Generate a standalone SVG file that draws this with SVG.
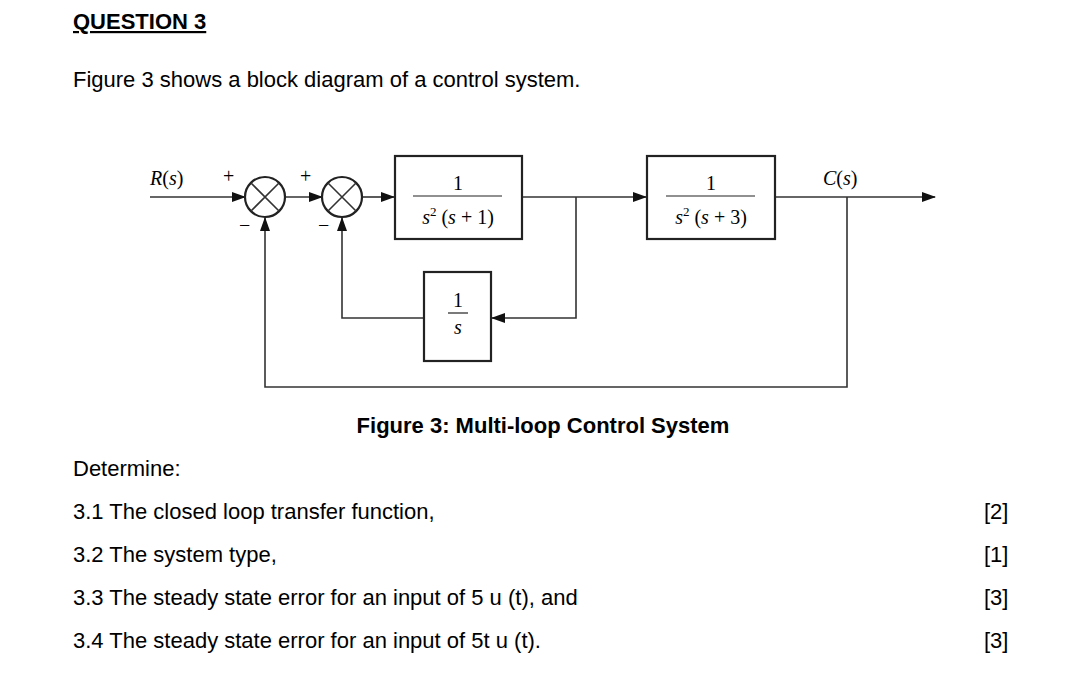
<svg xmlns="http://www.w3.org/2000/svg" width="1080" height="682" viewBox="0 0 1080 682">
<style>
.t{font-family:"Liberation Sans",Arial,sans-serif;font-size:22px;fill:#000}
.m{font-family:"Liberation Serif","Times New Roman",serif;font-size:20px;fill:#000}
.mi{font-family:"Liberation Serif","Times New Roman",serif;font-size:20px;font-style:italic;fill:#000}
.b{fill:#fff;stroke:#222;stroke-width:2.2}
.c{fill:none;stroke:#333;stroke-width:1.6}
</style>
<defs><marker id="a" markerWidth="14" markerHeight="10" refX="13" refY="5" orient="auto" markerUnits="userSpaceOnUse"><path d="M0,0L14,5L0,10z" fill="#111"/></marker></defs>
<rect width="1080" height="682" fill="#fff"/>
<text class="t" x="73" y="29" font-weight="bold" text-decoration="underline">QUESTION 3</text>
<text class="t" x="73" y="87">Figure 3 shows a block diagram of a control system.</text>
<g id="connectors" class="c">
<path d="M150,197H245" marker-end="url(#a)"/>
<path d="M285,197H322" marker-end="url(#a)"/>
<path d="M362,197H394" marker-end="url(#a)"/>
<path d="M522,197H646" marker-end="url(#a)"/>
<path d="M775,197H935" marker-end="url(#a)"/>
<path d="M576,197V318H492" marker-end="url(#a)"/>
<path d="M424,318H342V218" marker-end="url(#a)"/>
<path d="M847,197V387H265V218" marker-end="url(#a)"/>
</g>
<g id="sum1"><circle class="b" cx="265" cy="197" r="20" stroke-width="1.8"/><path class="c" d="M251,183L279,211M279,183L251,211"/></g>
<g id="sum2"><circle class="b" cx="342" cy="197" r="20" stroke-width="1.8"/><path class="c" d="M328,183L356,211M356,183L328,211"/></g>
<g id="g1"><rect class="b" x="395" y="156" width="127" height="83"/><text class="m" x="458" y="190" text-anchor="middle">1</text><line x1="413" y1="196" x2="502" y2="196" stroke="#222" stroke-width="1.2"/><text class="m" x="458" y="224" text-anchor="middle"><tspan font-style="italic">s</tspan><tspan font-size="13" dy="-8">2</tspan><tspan dy="8"> (</tspan><tspan font-style="italic">s</tspan> + 1)</text></g>
<g id="g2"><rect class="b" x="647" y="156" width="128" height="83"/><text class="m" x="711" y="190" text-anchor="middle">1</text><line x1="666" y1="196" x2="755" y2="196" stroke="#222" stroke-width="1.2"/><text class="m" x="711" y="224" text-anchor="middle"><tspan font-style="italic">s</tspan><tspan font-size="13" dy="-8">2</tspan><tspan dy="8"> (</tspan><tspan font-style="italic">s</tspan> + 3)</text></g>
<g id="h"><rect class="b" x="424" y="272" width="67" height="89"/><text class="m" x="458" y="307" text-anchor="middle">1</text><line x1="448" y1="313" x2="468" y2="313" stroke="#222" stroke-width="1.2"/><text class="mi" x="458" y="334" text-anchor="middle">s</text></g>
<text class="m" x="150" y="185"><tspan font-style="italic">R</tspan>(<tspan font-style="italic">s</tspan>)</text>
<text class="m" x="823" y="185"><tspan font-style="italic">C</tspan>(<tspan font-style="italic">s</tspan>)</text>
<text class="m" x="223" y="183">+</text><text class="m" x="300" y="183">+</text>
<text class="m" x="239" y="232">−</text><text class="m" x="318" y="232">−</text>
<text class="t" x="543" y="433" text-anchor="middle" font-weight="bold">Figure 3: Multi-loop Control System</text>
<text class="t" x="73" y="476">Determine:</text>
<text class="t" x="73" y="519">3.1 The closed loop transfer function,</text>
<text class="t" x="73" y="562">3.2 The system type,</text>
<text class="t" x="73" y="605">3.3 The steady state error for an input of 5 u (t), and</text>
<text class="t" x="73" y="648">3.4 The steady state error for an input of 5t u (t).</text>
<text class="t" x="984" y="519">[2]</text>
<text class="t" x="984" y="562">[1]</text>
<text class="t" x="984" y="605">[3]</text>
<text class="t" x="984" y="648">[3]</text>
</svg>
